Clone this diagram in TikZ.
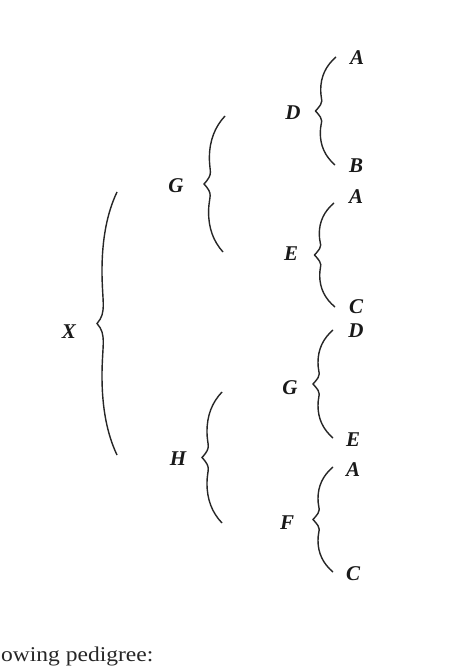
\documentclass[tikz,border=0pt]{standalone}
\usepackage{fontspec}
\setmainfont{Liberation Serif}
\newfontfamily\bookfont[FakeStretch=1.12]{Liberation Serif}
\usetikzlibrary{calc}

\begin{document}
\begin{tikzpicture}[x=1pt, y=-1pt,
    letter/.style={font=\fontsize{21}{21}\selectfont\bfseries\itshape, text=black!90, inner sep=1pt},
    bracing/.style={line width=1.4pt, draw=black!85, to path={
        .. controls ($(\tikztostart)!0.08!(\tikztotarget)+(-10,0)$) and ($(\tikztostart)!0.18!(\tikztotarget)+(-15,0)$)
        .. ($(\tikztostart)!0.3!(\tikztotarget)+(-15,0)$)
        .. controls ($(\tikztostart)!0.42!(\tikztotarget)+(-15,0)$) and ($(\tikztostart)!0.5!(\tikztotarget)+(-10,-11)$)
        .. ($(\tikztostart)!0.5!(\tikztotarget)+(-20,0)$)
        .. controls ($(\tikztostart)!0.5!(\tikztotarget)+(-10,11)$) and ($(\tikztostart)!0.58!(\tikztotarget)+(-15,0)$)
        .. ($(\tikztostart)!0.7!(\tikztotarget)+(-15,0)$)
        .. controls ($(\tikztostart)!0.82!(\tikztotarget)+(-15,0)$) and ($(\tikztostart)!0.92!(\tikztotarget)+(-10,0)$)
        .. (\tikztotarget)}}
]
\useasboundingbox[fill=white] (0,0) rectangle (474,668);

% Grandparents
\node[letter] (A1) at (357,58) {A};
\node[letter] (B1) at (356,166) {B};
\node[letter] (A2) at (356,197) {A};
\node[letter] (C1) at (356,307) {C};
\node[letter] (D2) at (356,331) {D};
\node[letter] (E2) at (353,440) {E};
\node[letter] (A3) at (353,470) {A};
\node[letter] (C2) at (353,574) {C};

% Parents
\node[letter] (D1) at (293,113) {D};
\node[letter] (E1) at (291,254) {E};
\node[letter] (G2) at (290,388) {G};
\node[letter] (F) at (287,523) {F};

% Generation of G, H and X
\node[letter] (G1) at (176,186) {G};
\node[letter] (H) at (178,459) {H};
\node[letter] (X) at (69,332) {X};

% Brace ends
\coordinate (d-top) at (336,57);  \coordinate (d-bot) at (335,165);
\coordinate (e-top) at (334,203); \coordinate (e-bot) at (335,307);
\coordinate (g-top) at (333,330); \coordinate (g-bot) at (333,438);
\coordinate (f-top) at (333,467); \coordinate (f-bot) at (333,572);
\coordinate (gg-top) at (225,116); \coordinate (gg-bot) at (223,252);
\coordinate (h-top) at (222,392); \coordinate (h-bot) at (222,523);
\coordinate (x-top) at (117,192); \coordinate (x-bot) at (117,455);

% Braces
\draw[bracing] (d-top) to (d-bot);
\draw[bracing] (e-top) to (e-bot);
\draw[bracing] (g-top) to (g-bot);
\draw[bracing] (f-top) to (f-bot);
\draw[bracing] (gg-top) to (gg-bot);
\draw[bracing] (h-top) to (h-bot);
\draw[bracing] (x-top) to (x-bot);

% Caption line
\node[anchor=base west, inner sep=0pt, font=\bookfont\fontsize{21}{21}\selectfont, text=black!85] (caption) at (1,661) {owing pedigree:};

\end{tikzpicture}
\end{document}
